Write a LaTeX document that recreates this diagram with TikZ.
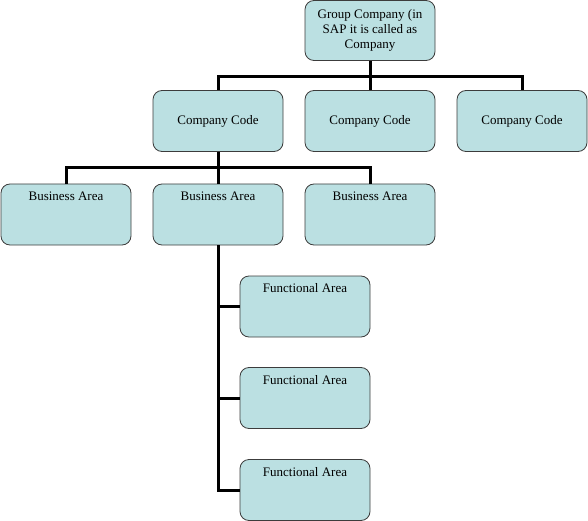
\documentclass[tikz,border=0pt]{standalone}
\usepackage{fontspec}
\setmainfont{Liberation Serif}
\definecolor{boxfill}{RGB}{187,224,226}
\definecolor{boxline}{RGB}{60,60,60}
\begin{document}
\begin{tikzpicture}[x=1pt, y=-1pt,
	box/.style={draw=boxline, line width=.8pt, fill=boxfill, rounded corners=9pt,
		minimum width=130pt, minimum height=61pt, inner ysep=6pt,
		font=\fontsize{13}{15}\selectfont},
	topbox/.style={box, text height=10.5pt, text depth=38.5pt},
	link/.style={line width=3pt}]
		
		\useasboundingbox (0,0) rectangle (588,521);
		
		\node[box, minimum height=60pt, align=center] (grp) at (370,30.5) {Group Company (in\\SAP it is called as\\Company};
		
		\node[box] (cc1) at (218,121) {Company Code};
		\node[box] (cc2) at (370,121) {Company Code};
		\node[box] (cc3) at (522,121) {Company Code};
		
		\node[topbox] (ba1) at (66,214.5) {Business Area};
		\node[topbox] (ba2) at (218,214.5) {Business Area};
		\node[topbox] (ba3) at (370,214.5) {Business Area};
		
		\node[topbox] (fa1) at (305,306.5) {Functional Area};
		\node[topbox] (fa2) at (305,398) {Functional Area};
		\node[topbox] (fa3) at (305,490) {Functional Area};
		
		\coordinate (b1) at (370,77);
		\coordinate (b2) at (218,168);
		
		\draw[link] (grp) -- (b1);
		\draw[link] (cc1) |- (b1) -| (cc3);
		\draw[link] (cc2) -- (b1);
		
		\draw[link] (cc1) -- (b2);
		\draw[link] (ba1) |- (b2) -| (ba3);
		\draw[link] (ba2) -- (b2);
		
		\draw[link] (ba2) |- (fa1);
		\draw[link] (ba2) |- (fa2);
		\draw[link] (ba2) |- (fa3);
	\end{tikzpicture}
\end{document}
